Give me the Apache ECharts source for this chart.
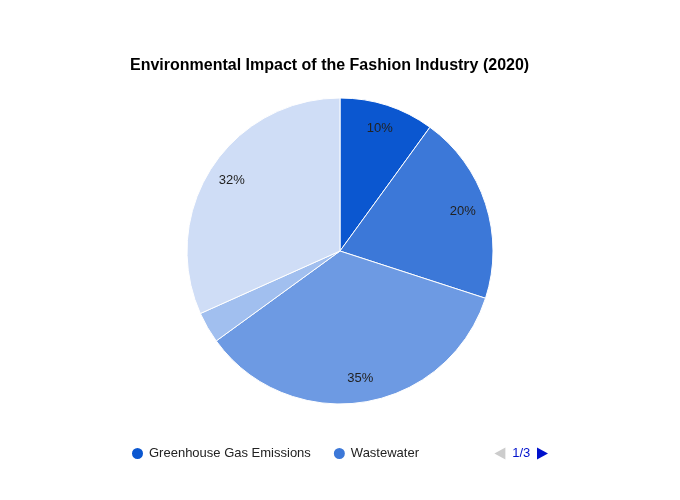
<!DOCTYPE html>
<html>
<head>
<meta charset="utf-8">
<script src="https://cdn.jsdelivr.net/npm/echarts@6/dist/echarts.min.js"></script>
<style>html,body{margin:0;padding:0;background:#fff;}#c{width:680px;height:500px;}</style>
</head>
<body>
<div id="c"></div>
<script>
var titleText = 'Environmental Impact of the Fashion Industry (2020)';
var categories = ['Greenhouse Gas Emissions', 'Wastewater', 'Textile Waste', 'Microfiber Pollution', 'Water Consumption'];
var values = [10, 20, 35, 3.3, 31.7];
var labels = ['10%', '20%', '35%', '', '32%'];
var colors = ['#0b57d0', '#3c78d8', '#6d9ae3', '#a1bfef', '#cfddf6'];

var font = '"Liberation Sans", Arial, sans-serif';
var chart = echarts.init(document.getElementById('c'), null, {renderer: 'canvas'});

var mainData = categories.map(function (n, i) {
  return {name: n, value: values[i], itemStyle: {color: colors[i]}};
});
var labelData = categories.map(function (n, i) {
  return {name: n, value: values[i], label: {show: labels[i] !== '', formatter: labels[i]}};
});

chart.setOption({
  animation: false,
  backgroundColor: '#ffffff',
  title: {
    text: titleText,
    left: 130,
    top: 58,
    padding: 0,
    textStyle: {fontFamily: font, fontSize: 16, fontWeight: 'bold', color: '#000'}
  },
  legend: {
    type: 'scroll',
    orient: 'horizontal',
    data: categories,
    left: 130,
    width: 418,
    top: 446,
    padding: 0,
    itemGap: 21,
    itemWidth: 13,
    itemHeight: 13,
    icon: 'circle',
    selectedMode: false,
    textStyle: {fontFamily: font, fontSize: 13, color: '#222'},
    pageButtonGap: 66,
    pageButtonItemGap: 1,
    pageIcons: {
      horizontal: ['path://M0,6L11,0L11,12Z', 'path://M11,6L0,0L0,12Z']
    },
    pageIconSize: [11, 12],
    pageIconColor: '#0011cc',
    pageIconInactiveColor: '#cccccc',
    pageTextStyle: {fontFamily: font, fontSize: 13, color: '#0011cc'},
    pageFormatter: '{current}/{total}'
  },
  series: [
    {
      type: 'pie',
      center: [340, 251],
      radius: [0, 153],
      startAngle: 90,
      clockwise: true,
      silent: true,
      label: {show: false},
      labelLine: {show: false},
      itemStyle: {borderColor: '#ffffff', borderWidth: 1},
      data: mainData
    },
    {
      type: 'pie',
      center: [340, 251],
      radius: [99, 153],
      startAngle: 90,
      clockwise: true,
      silent: true,
      legendHoverLink: false,
      avoidLabelOverlap: false,
      itemStyle: {color: 'rgba(0,0,0,0)', borderWidth: 0},
      label: {show: true, position: 'inside', fontFamily: font, fontSize: 13, color: '#222'},
      labelLine: {show: false},
      data: labelData
    }
  ]
});
</script>
</body>
</html>
